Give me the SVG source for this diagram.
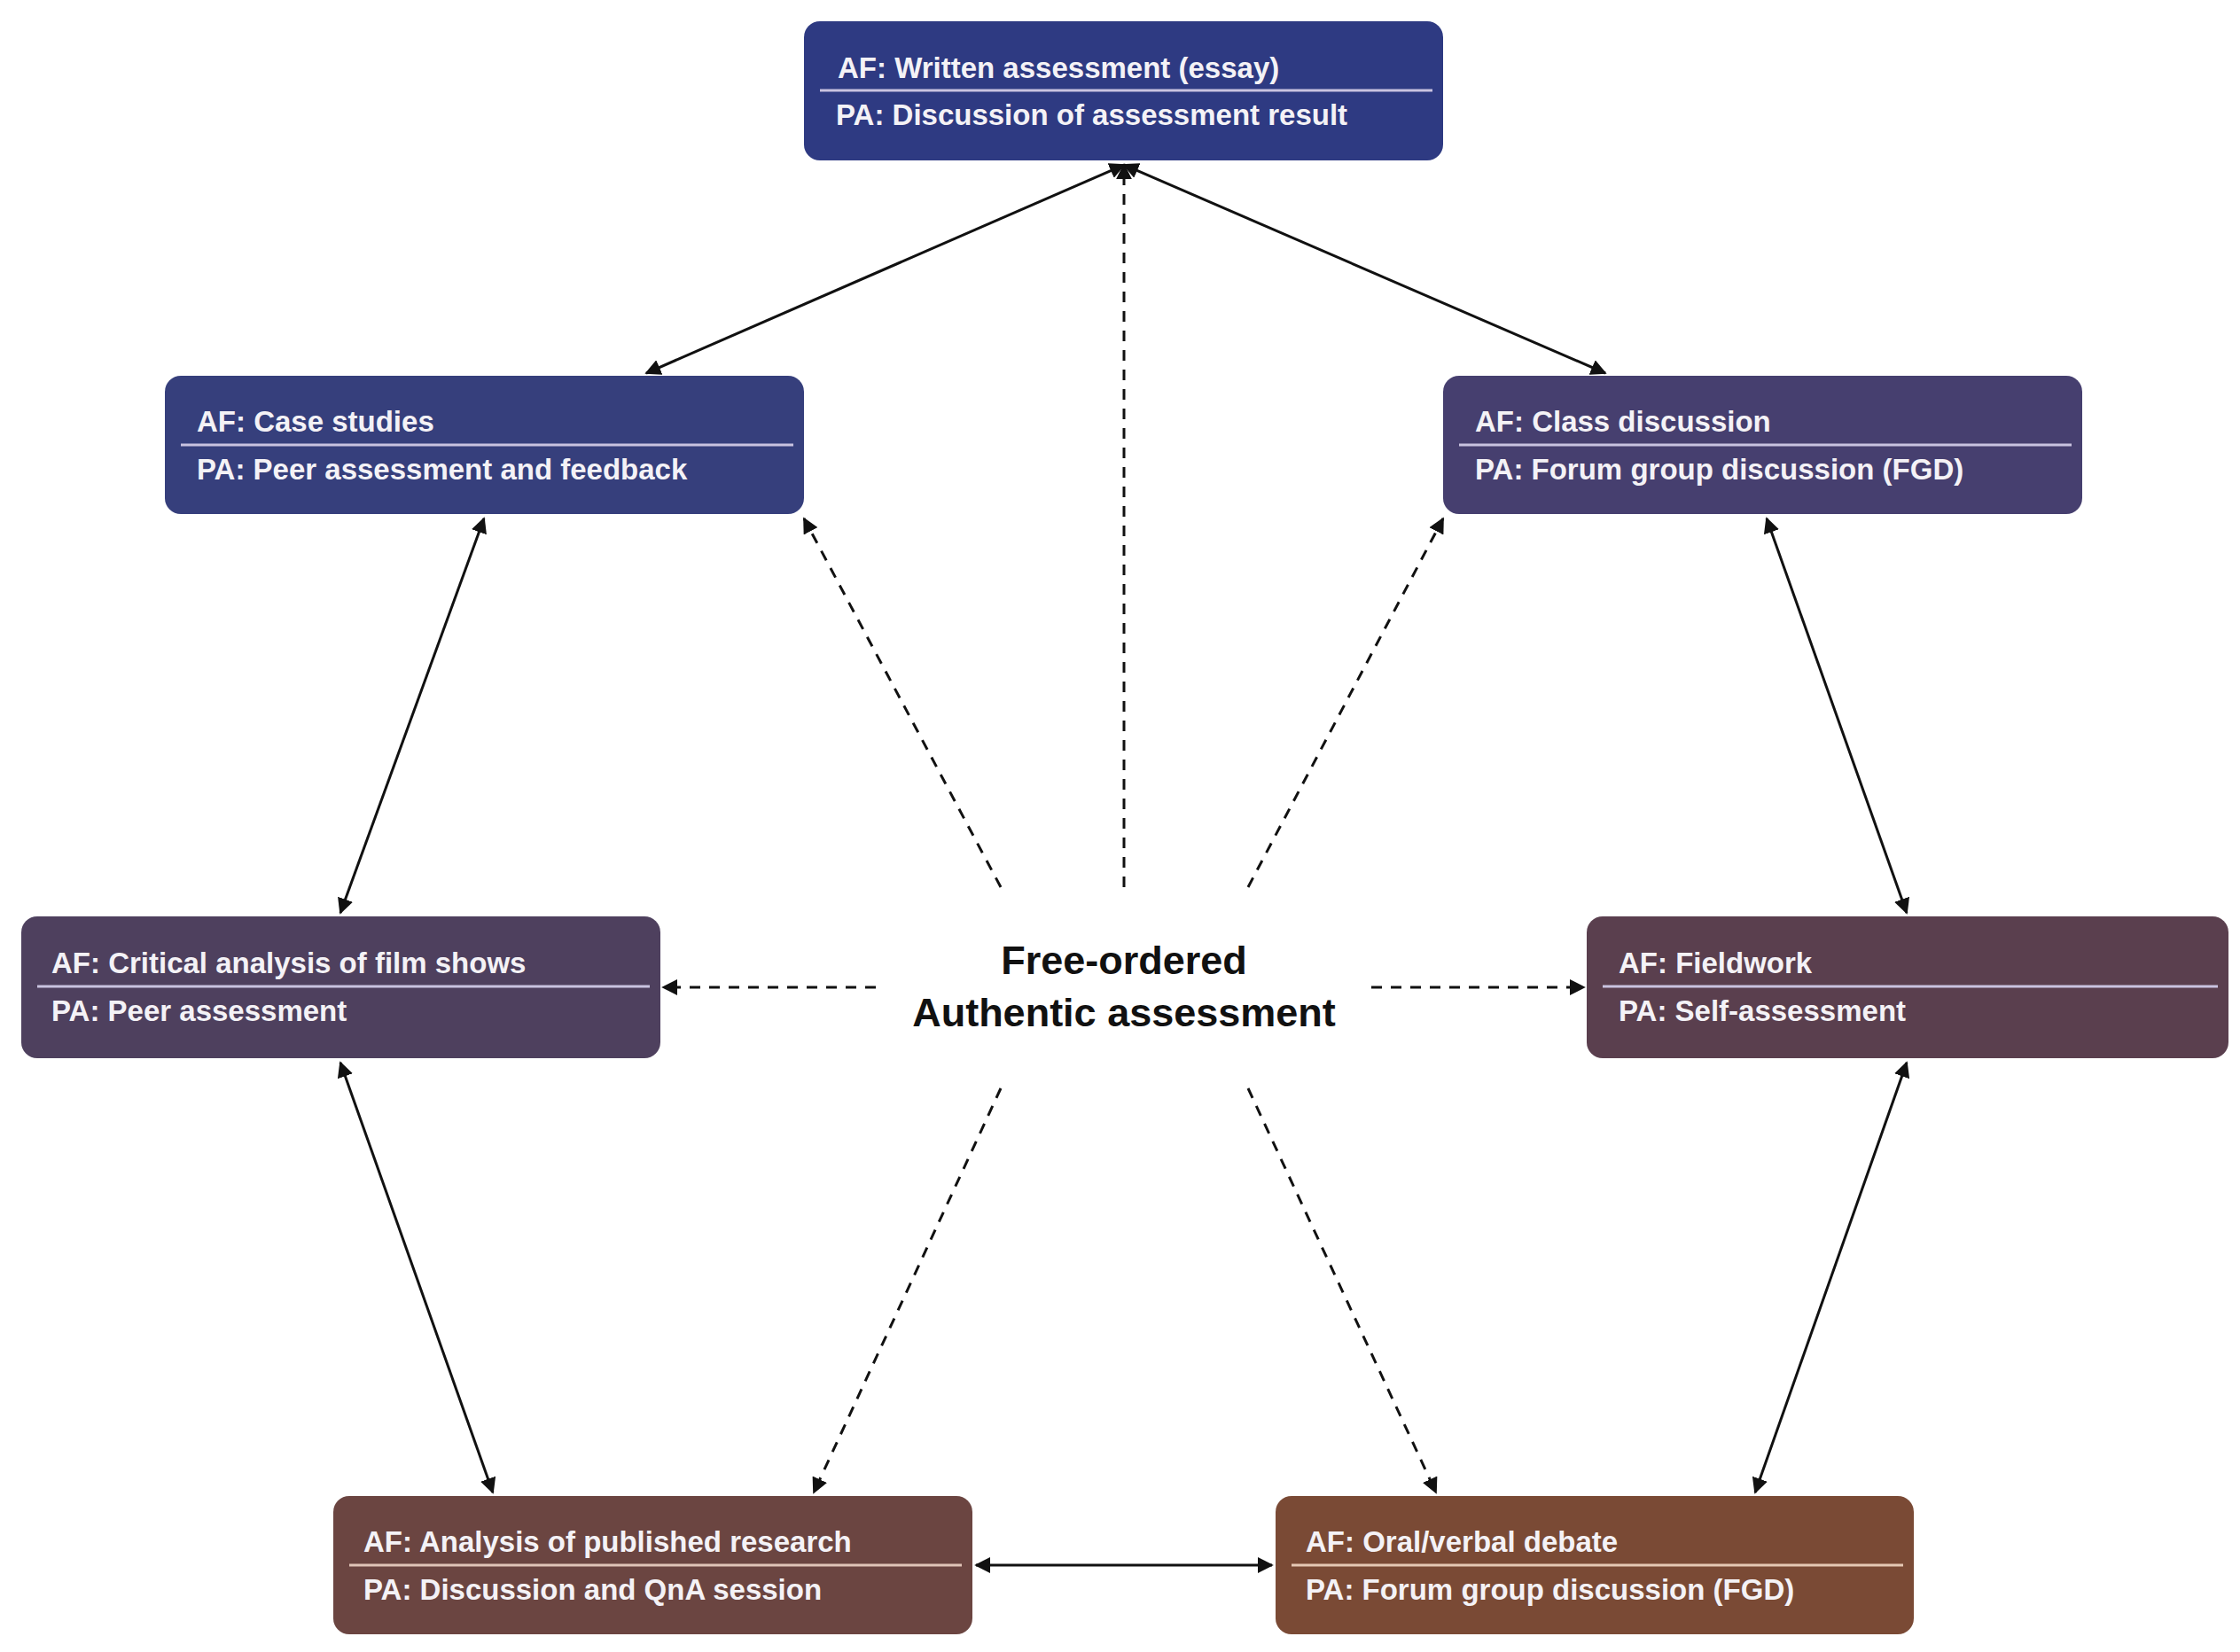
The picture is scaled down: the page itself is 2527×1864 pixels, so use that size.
<svg xmlns="http://www.w3.org/2000/svg" width="2527" height="1864" viewBox="0 0 2527 1864">
<style>
.t{font-family:"Liberation Sans",Arial,sans-serif;font-weight:bold;font-size:33px;fill:#f4f2f6}
.sep{stroke:#c9c3e0;stroke-width:3}
.c{stroke:#111;stroke-width:3;fill:none}
.d{stroke:#111;stroke-width:3;fill:none;stroke-dasharray:12 10}
.ctr{font-family:"Liberation Sans",Arial,sans-serif;font-weight:bold;font-size:45px;fill:#111;text-anchor:middle}
</style>
<defs>
<marker id="a" viewBox="0 0 10 10" refX="9" refY="5" markerWidth="6" markerHeight="6" orient="auto-start-reverse"><path d="M0,0 L10,5 L0,10 z" fill="#111"/></marker>
</defs>
<rect width="2527" height="1864" fill="#fff"/>
<g id="connectors">
<line class="c" x1="1268" y1="186" x2="729" y2="421" marker-start="url(#a)" marker-end="url(#a)"/>
<line class="c" x1="1268" y1="186" x2="1811" y2="421" marker-start="url(#a)" marker-end="url(#a)"/>
<line class="c" x1="546" y1="585" x2="384" y2="1030" marker-start="url(#a)" marker-end="url(#a)"/>
<line class="c" x1="1993" y1="585" x2="2151" y2="1030" marker-start="url(#a)" marker-end="url(#a)"/>
<line class="c" x1="384" y1="1199" x2="556" y2="1684" marker-start="url(#a)" marker-end="url(#a)"/>
<line class="c" x1="2151" y1="1199" x2="1980" y2="1684" marker-start="url(#a)" marker-end="url(#a)"/>
<line class="c" x1="1101" y1="1766" x2="1435" y2="1766" marker-start="url(#a)" marker-end="url(#a)"/>
<line class="d" x1="1268" y1="1001" x2="1268" y2="186" marker-end="url(#a)"/>
<line class="d" x1="1129" y1="1001" x2="907" y2="585" marker-end="url(#a)"/>
<line class="d" x1="1408" y1="1001" x2="1628" y2="585" marker-end="url(#a)"/>
<line class="d" x1="988" y1="1114" x2="748" y2="1114" marker-end="url(#a)"/>
<line class="d" x1="1547" y1="1114" x2="1787" y2="1114" marker-end="url(#a)"/>
<line class="d" x1="1129" y1="1228" x2="918" y2="1684" marker-end="url(#a)"/>
<line class="d" x1="1408" y1="1228" x2="1620" y2="1684" marker-end="url(#a)"/>
</g>
<g id="center"><text class="ctr" x="1268" y="1099">Free-ordered</text><text class="ctr" x="1268" y="1158">Authentic assessment</text></g>
<g id="n-top"><rect x="907" y="24" width="721" height="157" rx="18" fill="#2e3a82"/><line class="sep" x1="925" y1="102" x2="1616" y2="102"/><text class="t" x="945" y="88">AF:  Written assessment (essay)</text><text class="t" x="943" y="141">PA:  Discussion of assessment result</text></g>
<g id="n-case"><rect x="186" y="424" width="721" height="156" rx="18" fill="#363f7c"/><line class="sep" x1="204" y1="502" x2="895" y2="502"/><text class="t" x="222" y="487">AF:  Case studies</text><text class="t" x="222" y="541">PA:  Peer assessment and feedback</text></g>
<g id="n-class"><rect x="1628" y="424" width="721" height="156" rx="18" fill="#463f6f"/><line class="sep" x1="1646" y1="502" x2="2337" y2="502"/><text class="t" x="1664" y="487">AF: Class discussion</text><text class="t" x="1664" y="541">PA: Forum group discussion (FGD)</text></g>
<g id="n-critical"><rect x="24" y="1034" width="721" height="160" rx="18" fill="#4e405e"/><line class="sep" x1="42" y1="1113" x2="733" y2="1113"/><text class="t" x="58" y="1098">AF: Critical analysis of film shows</text><text class="t" x="58" y="1152">PA: Peer assessment</text></g>
<g id="n-field"><rect x="1790" y="1034" width="724" height="160" rx="18" fill="#5a3f4e"/><line class="sep" x1="1808" y1="1113" x2="2502" y2="1113"/><text class="t" x="1826" y="1098">AF: Fieldwork</text><text class="t" x="1826" y="1152">PA: Self-assessment</text></g>
<g id="n-analysis"><rect x="376" y="1688" width="721" height="156" rx="18" fill="#6b4541"/><line class="sep" x1="394" y1="1766" x2="1085" y2="1766" style="stroke:#e0c4b8"/><text class="t" x="410" y="1751">AF: Analysis of published research</text><text class="t" x="410" y="1805">PA:  Discussion and QnA session</text></g>
<g id="n-oral"><rect x="1439" y="1688" width="720" height="156" rx="18" fill="#7a4a35"/><line class="sep" x1="1457" y1="1766" x2="2147" y2="1766" style="stroke:#e6c8b4"/><text class="t" x="1473" y="1751">AF: Oral/verbal debate</text><text class="t" x="1473" y="1805">PA: Forum group discussion (FGD)</text></g>
</svg>
